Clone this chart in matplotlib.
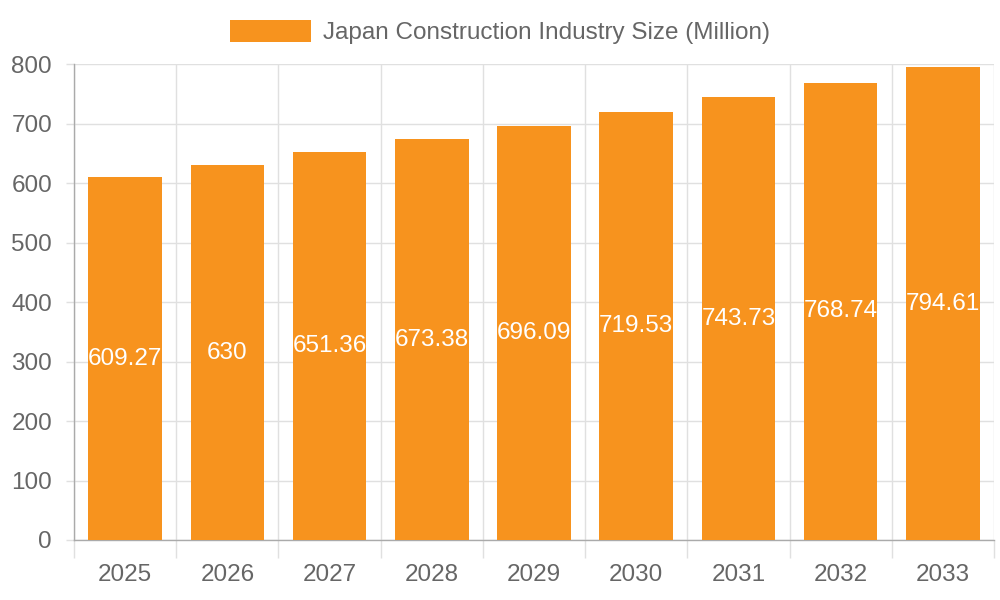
import matplotlib
matplotlib.use("Agg")
import matplotlib.pyplot as plt
from matplotlib.patches import Patch
import numpy as np

years = ["2025", "2026", "2027", "2028", "2029", "2030", "2031", "2032", "2033"]
values = [609.27, 630, 651.36, 673.38, 696.09, 719.53, 743.73, 768.74, 794.61]
value_labels = ["609.27", "630", "651.36", "673.38", "696.09", "719.53", "743.73", "768.74", "794.61"]
series_name = "Japan Construction Industry Size (Million)"
y_ticks = [0, 100, 200, 300, 400, 500, 600, 700, 800]

plt.rcParams['font.family'] = ['Liberation Sans', 'DejaVu Sans']
bar_color = "#F7931E"
text_color = "#666666"
grid_color = "#e0e0e0"
axis_color = "#aaaaaa"
fs = 17.5

fig = plt.figure(figsize=(10, 6), dpi=100)
ax = fig.add_axes([0.074, 0.1, 0.92, 0.7933])

x = np.arange(len(years))
bars = ax.bar(x, values, width=0.72, color=bar_color, zorder=3)

for xi, v, lab in zip(x, values, value_labels):
    ax.text(xi, v / 2, lab, ha="center", va="center", color="white", fontsize=fs, zorder=4)

ax.set_xlim(-0.5, len(years) - 0.5)
ax.set_ylim(0, 800)
ax.set_yticks(y_ticks)
ax.set_yticklabels([str(t) for t in y_ticks])

# category boundaries for grid/ticks
boundaries = np.arange(-0.5, len(years), 1.0)
ax.set_xticks(boundaries, minor=False)
ax.set_xticklabels([""] * len(boundaries))
ax.set_xticks(x, minor=True)
ax.set_xticklabels(years, minor=True)

ax.tick_params(axis="x", which="major", length=13, color=grid_color, width=1)
ax.tick_params(axis="x", which="minor", length=0, pad=17, labelsize=fs, labelcolor=text_color)
ax.tick_params(axis="y", length=5.8, color=grid_color, width=1, pad=10, labelsize=fs, labelcolor=text_color)

ax.grid(True, which="major", axis="both", color=grid_color, linewidth=1, zorder=0)

for side in ["top", "right"]:
    ax.spines[side].set_visible(False)
ax.spines["left"].set_color(axis_color)
ax.spines["bottom"].set_color(axis_color)
ax.spines["left"].set_linewidth(1)
ax.spines["bottom"].set_linewidth(1)

handle = Patch(facecolor=bar_color, edgecolor="none")
fig.legend([handle], [series_name], loc="center", bbox_to_anchor=(0.5, 0.9467),
           frameon=False, fontsize=fs, labelcolor=text_color,
           handlelength=3.3, handleheight=1.0, handletextpad=0.5)

fig.savefig("out.png", dpi=100)
